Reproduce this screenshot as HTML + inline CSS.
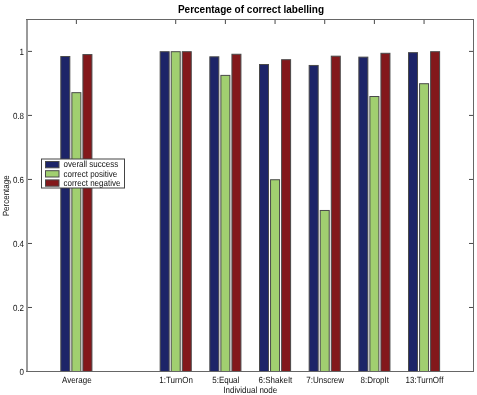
<!DOCTYPE html>
<html><head><meta charset="utf-8"><style>
html,body{margin:0;padding:0;background:#fff;width:477px;height:395px;overflow:hidden}
svg{display:block;will-change:transform}
.t{text-rendering:geometricPrecision;font-family:"Liberation Sans",sans-serif;font-size:8px;fill:#111;stroke:none}
.tb{font-family:"Liberation Sans",sans-serif;font-size:10px;font-weight:bold;fill:#000}
</style></head><body>
<svg width="477" height="395" viewBox="0 0 477 395">
<rect x="0" y="0" width="477" height="395" fill="#fff"/>
<rect x="60.82" y="56.50" width="9.00" height="315.00" fill="#1d2468" stroke="#4a4a4a" stroke-width="1"/>
<rect x="71.87" y="92.67" width="9.00" height="278.83" fill="#a1cf70" stroke="#4a4a4a" stroke-width="1"/>
<rect x="82.92" y="54.58" width="9.00" height="316.92" fill="#83181b" stroke="#4a4a4a" stroke-width="1"/>
<rect x="160.16" y="51.70" width="9.00" height="319.80" fill="#1d2468" stroke="#4a4a4a" stroke-width="1"/>
<rect x="171.21" y="51.70" width="9.00" height="319.80" fill="#a1cf70" stroke="#4a4a4a" stroke-width="1"/>
<rect x="182.26" y="51.70" width="9.00" height="319.80" fill="#83181b" stroke="#4a4a4a" stroke-width="1"/>
<rect x="209.83" y="56.82" width="9.00" height="314.68" fill="#1d2468" stroke="#4a4a4a" stroke-width="1"/>
<rect x="220.88" y="75.39" width="9.00" height="296.11" fill="#a1cf70" stroke="#4a4a4a" stroke-width="1"/>
<rect x="231.93" y="54.26" width="9.00" height="317.24" fill="#83181b" stroke="#4a4a4a" stroke-width="1"/>
<rect x="259.50" y="64.50" width="9.00" height="307.00" fill="#1d2468" stroke="#4a4a4a" stroke-width="1"/>
<rect x="270.55" y="179.74" width="9.00" height="191.76" fill="#a1cf70" stroke="#4a4a4a" stroke-width="1"/>
<rect x="281.60" y="59.70" width="9.00" height="311.80" fill="#83181b" stroke="#4a4a4a" stroke-width="1"/>
<rect x="309.17" y="65.46" width="9.00" height="306.04" fill="#1d2468" stroke="#4a4a4a" stroke-width="1"/>
<rect x="320.22" y="210.47" width="9.00" height="161.03" fill="#a1cf70" stroke="#4a4a4a" stroke-width="1"/>
<rect x="331.27" y="56.18" width="9.00" height="315.32" fill="#83181b" stroke="#4a4a4a" stroke-width="1"/>
<rect x="358.84" y="57.14" width="9.00" height="314.36" fill="#1d2468" stroke="#4a4a4a" stroke-width="1"/>
<rect x="369.89" y="96.51" width="9.00" height="274.99" fill="#a1cf70" stroke="#4a4a4a" stroke-width="1"/>
<rect x="380.94" y="53.30" width="9.00" height="318.20" fill="#83181b" stroke="#4a4a4a" stroke-width="1"/>
<rect x="408.51" y="52.66" width="9.00" height="318.84" fill="#1d2468" stroke="#4a4a4a" stroke-width="1"/>
<rect x="419.56" y="83.71" width="9.00" height="287.79" fill="#a1cf70" stroke="#4a4a4a" stroke-width="1"/>
<rect x="430.61" y="51.70" width="9.00" height="319.80" fill="#83181b" stroke="#4a4a4a" stroke-width="1"/>
<rect x="26" y="19" width="2" height="353" fill="#9a9a9a"/>
<rect x="26" y="19" width="448" height="1" fill="#666"/>
<rect x="26" y="371" width="448" height="1" fill="#666"/>
<rect x="473" y="19" width="1" height="353" fill="#666"/>
<text class="t" text-anchor="end" transform="translate(24.00,374.90) scale(1,1.12)">0</text>
<line x1="28" y1="307.48" x2="32" y2="307.48" stroke="#333" stroke-width="0.9"/>
<line x1="469" y1="307.48" x2="473" y2="307.48" stroke="#333" stroke-width="0.9"/>
<text class="t" text-anchor="end" transform="translate(24.00,310.88) scale(1,1.12)">0.2</text>
<line x1="28" y1="243.46" x2="32" y2="243.46" stroke="#333" stroke-width="0.9"/>
<line x1="469" y1="243.46" x2="473" y2="243.46" stroke="#333" stroke-width="0.9"/>
<text class="t" text-anchor="end" transform="translate(24.00,246.86) scale(1,1.12)">0.4</text>
<line x1="28" y1="179.44" x2="32" y2="179.44" stroke="#333" stroke-width="0.9"/>
<line x1="469" y1="179.44" x2="473" y2="179.44" stroke="#333" stroke-width="0.9"/>
<text class="t" text-anchor="end" transform="translate(24.00,182.84) scale(1,1.12)">0.6</text>
<line x1="28" y1="115.42" x2="32" y2="115.42" stroke="#333" stroke-width="0.9"/>
<line x1="469" y1="115.42" x2="473" y2="115.42" stroke="#333" stroke-width="0.9"/>
<text class="t" text-anchor="end" transform="translate(24.00,118.82) scale(1,1.12)">0.8</text>
<line x1="28" y1="51.40" x2="32" y2="51.40" stroke="#333" stroke-width="0.9"/>
<line x1="469" y1="51.40" x2="473" y2="51.40" stroke="#333" stroke-width="0.9"/>
<text class="t" text-anchor="end" transform="translate(24.00,54.80) scale(1,1.12)">1</text>
<line x1="76.37" y1="20" x2="76.37" y2="24" stroke="#333" stroke-width="0.9"/>
<text class="t" text-anchor="middle" transform="translate(76.77,382.50) scale(1,1.12)">Average</text>
<line x1="175.71" y1="20" x2="175.71" y2="24" stroke="#333" stroke-width="0.9"/>
<text class="t" text-anchor="middle" transform="translate(176.11,382.50) scale(1,1.12)">1:TurnOn</text>
<line x1="225.38" y1="20" x2="225.38" y2="24" stroke="#333" stroke-width="0.9"/>
<text class="t" text-anchor="middle" transform="translate(225.78,382.50) scale(1,1.12)">5:Equal</text>
<line x1="275.05" y1="20" x2="275.05" y2="24" stroke="#333" stroke-width="0.9"/>
<text class="t" text-anchor="middle" transform="translate(275.45,382.50) scale(1,1.12)">6:ShakeIt</text>
<line x1="324.72" y1="20" x2="324.72" y2="24" stroke="#333" stroke-width="0.9"/>
<text class="t" text-anchor="middle" transform="translate(325.12,382.50) scale(1,1.12)">7:Unscrew</text>
<line x1="374.39" y1="20" x2="374.39" y2="24" stroke="#333" stroke-width="0.9"/>
<text class="t" text-anchor="middle" transform="translate(374.79,382.50) scale(1,1.12)">8:DropIt</text>
<line x1="424.06" y1="20" x2="424.06" y2="24" stroke="#333" stroke-width="0.9"/>
<text class="t" text-anchor="middle" transform="translate(424.46,382.50) scale(1,1.12)">13:TurnOff</text>
<text class="t" text-anchor="middle" transform="translate(250.30,392.80) scale(1,1.12)">Individual node</text>
<text class="t" text-anchor="middle" transform="translate(8.60,195.80) rotate(-90) scale(1,1.12)">Percentage</text>
<text x="251" y="12.5" text-anchor="middle" class="tb">Percentage of correct labelling</text>
<rect x="41.5" y="159" width="83" height="29" fill="#fff" stroke="#444" stroke-width="1"/>
<rect x="45.5" y="161.50" width="13.5" height="6.3" fill="#1d2468" stroke="#4a4a4a" stroke-width="1"/>
<text class="t" transform="translate(63.50,167.40) scale(1,1.12)">overall success</text>
<rect x="45.5" y="170.70" width="13.5" height="6.3" fill="#a1cf70" stroke="#4a4a4a" stroke-width="1"/>
<text class="t" transform="translate(63.50,176.60) scale(1,1.12)">correct positive</text>
<rect x="45.5" y="179.90" width="13.5" height="6.3" fill="#83181b" stroke="#4a4a4a" stroke-width="1"/>
<text class="t" transform="translate(63.50,185.80) scale(1,1.12)">correct negative</text>
</svg>
</body></html>
